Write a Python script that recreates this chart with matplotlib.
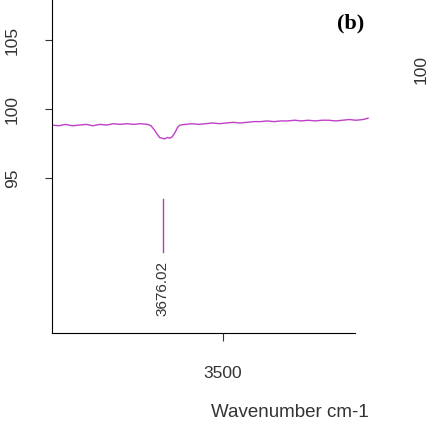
import matplotlib
matplotlib.use("Agg")
import matplotlib.pyplot as plt
plt.rcParams["font.family"] = ["Liberation Sans", "DejaVu Sans"]

wavenumber = [4000, 3980, 3960, 3940, 3920, 3900, 3880, 3860, 3840, 3820, 3800, 3780, 3760,
              3740, 3720, 3710, 3700, 3692, 3685, 3678, 3670, 3662, 3655, 3648, 3640, 3632,
              3625, 3610, 3590, 3570, 3550, 3530, 3510, 3490, 3470, 3450, 3430, 3410, 3390,
              3370, 3350, 3330, 3310, 3290, 3270, 3250, 3230, 3210, 3190, 3170, 3150, 3130,
              3110, 3090, 3075]
transmittance = [98.85, 98.8, 98.9, 98.8, 98.85, 98.9, 98.8, 98.9, 98.85, 98.95, 98.9, 98.95, 98.9,
                 98.95, 98.9, 98.8, 98.5, 98.2, 97.95, 97.9, 97.85, 97.95, 97.9, 98.0, 98.3, 98.7,
                 98.85, 98.9, 98.95, 98.9, 98.95, 99.0, 98.95, 99.0, 99.05, 99.0, 99.05, 99.1, 99.1,
                 99.15, 99.1, 99.15, 99.15, 99.2, 99.15, 99.2, 99.15, 99.2, 99.2, 99.15, 99.2, 99.25,
                 99.2, 99.25, 99.35]
peak_pos = 3676.02
peak_label = "3676.02"
yticks = [95, 100, 105]
xticks = [3500]

fig = plt.figure(figsize=(4.32, 4.32), dpi=100)
ax = fig.add_axes([0.12, 0.229, 0.736, 0.771])
ax.plot(wavenumber, transmittance, color="#c040c8", lw=1.0)
ax.plot([peak_pos, peak_pos], [89.7, 93.5], color="#b040b8", lw=1.0)
ax.text(peak_pos, 89.0, peak_label, rotation=90, ha="center", va="top", fontsize=11, color="#333333")
ax.set_xlim(4000, 3070)
ax.set_ylim(83.8, 107.9)
ax.spines["top"].set_visible(False)
ax.spines["right"].set_visible(False)
ax.spines["bottom"].set_bounds(4000, 3113)
ax.set_xticks(xticks)
ax.set_yticks(yticks)
ax.tick_params(axis="y", labelrotation=90, labelsize=12.5, colors="#333333", pad=18, length=5)
ax.tick_params(axis="x", labelsize=12.5, colors="#333333", pad=18, length=6)
for t in ax.get_yticklabels():
    t.set_va("center")
ax.text(0.94, 0.93, "(b)", transform=ax.transAxes, fontsize=16, fontweight="bold",
        family="Liberation Serif", ha="center", va="center")
fig.text(0.67, 0.045, "Wavenumber cm-1", ha="center", va="center", fontsize=13.5, color="#333333")
fig.text(0.975, 0.84, "100", rotation=90, ha="center", va="center", fontsize=12.5, color="#333333")
fig.savefig("out.png", dpi=100)
